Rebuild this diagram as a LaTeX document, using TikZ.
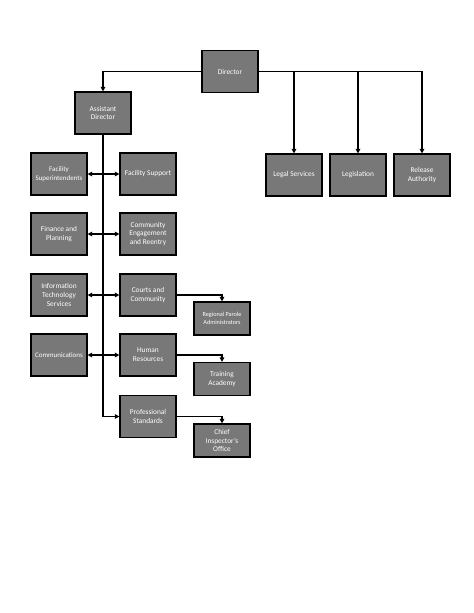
\documentclass[tikz,border=0pt]{standalone}
\usepackage{fontspec}
\setmainfont{Carlito}
\usetikzlibrary{arrows.meta}
\definecolor{boxgray}{RGB}{120,120,120}
\begin{document}
\begin{tikzpicture}
[
    x=1.291pt, y=-1.291pt,
    unit/.style={draw=black, line width=1.5pt, fill=boxgray, text=white,
        minimum width=72.3pt, minimum height=54.2pt, align=center,
        inner sep=1pt, font=\fontsize{9.5}{11.5}\selectfont},
    subunit/.style={unit, minimum height=42.6pt},
    link/.style={line width=1.5pt, -{Triangle[length=6pt,width=6pt]}},
    both/.style={line width=1.5pt, {Triangle[length=6pt,width=6pt]}-{Triangle[length=6pt,width=6pt]}},
]
\useasboundingbox (0,0) rectangle (474,613);
% top level
\node [unit] (director) at (230,71.5) {Director};
\node [unit] (assistant) at (103,113) {Assistant\\Director};
\node [unit] (legal) at (294,175) {Legal Services};
\node [unit] (legislation) at (358,175) {Legislation};
\node [unit] (release) at (422,175) {Release\\Authority};
% left column
\node [unit, font=\fontsize{9}{11}\selectfont] (superintendents) at (59,174) {Facility\\Superintendents};
\node [unit] (finance) at (59,234) {Finance and\\Planning};
\node [unit] (infotech) at (59,295) {Information\\Technology\\Services};
\node [unit, font=\fontsize{9}{11}\selectfont] (communications) at (59,355) {Communications};
% right column
\node [unit] (support) at (148,174) {Facility Support};
\node [unit] (engagement) at (148,234) {Community\\Engagement\\and Reentry};
\node [unit] (courts) at (148,295) {Courts and\\Community};
\node [unit] (resources) at (148,355) {Human\\Resources};
\node [unit] (standards) at (148,416.5) {Professional\\Standards};
% sub units
\node [subunit, font=\fontsize{8}{10}\selectfont] (parole) at (222,318.5) {Regional Parole\\Administrators};
\node [subunit] (academy) at (222,379) {Training\\Academy};
\node [subunit] (inspector) at (222,440.5) {Chief\\Inspector's\\Office};
% connectors
\draw [link] (director.west) -| (assistant.north);
\draw [link] (director.east) -| (legal.north);
\draw [link] (director.east) -| (legislation.north);
\draw [link] (director.east) -| (release.north);
\draw [link] (assistant.south) |- (standards.west);
\draw [both] (superintendents.east) -- (support.west);
\draw [both] (finance.east) -- (engagement.west);
\draw [both] (infotech.east) -- (courts.west);
\draw [both] (communications.east) -- (resources.west);
\draw [link] (courts.east) -| (parole.north);
\draw [link] (resources.east) -| (academy.north);
\draw [link] (standards.east) -| (inspector.north);
\end{tikzpicture}
\end{document}
